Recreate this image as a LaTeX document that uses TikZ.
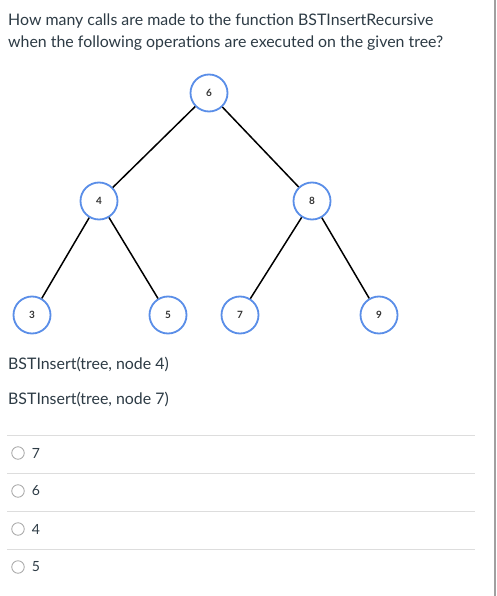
\documentclass[tikz,border=0pt]{standalone}
\usepackage{fontspec}
\setmainfont{Lato}
\usepackage{xcolor}
\usetikzlibrary{positioning}
\definecolor{treeBlue}{HTML}{5A8EE8}
\definecolor{textDark}{HTML}{2D3B45}
\definecolor{ruleGray}{HTML}{DDDDDD}
\definecolor{edgeGray}{HTML}{A0A0A0}

\begin{document}
\begin{tikzpicture}[x=1pt, y=-1pt,
    bst/.style={circle, draw=treeBlue, line width=1.8pt, minimum size=37pt, inner sep=0pt,
      fill=white, font=\fontsize{10}{11}\selectfont\bfseries, text=black!80},
    link/.style={line width=1.5pt, black},
    qtext/.style={anchor=base west, inner sep=0pt, font=\fontsize{15.9}{18}\selectfont, text=textDark},
    radio/.style={circle, draw=gray!70, line width=0.8pt, minimum size=12.5pt, inner sep=0pt},
    choice/.style={anchor=west, inner sep=0pt, font=\fontsize{14}{16}\selectfont, text=textDark},
    sep/.style={ruleGray, line width=1pt}
  ]
  \useasboundingbox (0,0) rectangle (496,596);
  \fill[white] (0,0) rectangle (496,596);
  \draw[edgeGray, line width=1.5pt] (495,0) -- (495,596);

  % === Question ===
  \node[qtext] (q1) at (8,26) {How many calls are made to the function BSTInsertRecursive};
  \node[qtext] (q2) at (8,48) {when the following operations are executed on the given tree?};

  % === Tree ===
  \node[bst] (n6) at (209,93) {6};
  \node[bst] (n4) at (99,201) {4};
  \node[bst] (n8) at (312,201) {8};
  \node[bst] (n3) at (32,315) {3};
  \node[bst] (n5) at (168,315) {5};
  \node[bst] (n7) at (240,315) {7};
  \node[bst] (n9) at (379,315) {9};
  \draw[link] (n6)--(n4); \draw[link] (n6)--(n8);
  \draw[link] (n4)--(n3); \draw[link] (n4)--(n5);
  \draw[link] (n8)--(n7); \draw[link] (n8)--(n9);

  % === Operations ===
  \node[qtext] (op1) at (8,369) {BSTInsert(tree, node 4)};
  \node[qtext] (op2) at (8,404) {BSTInsert(tree, node 7)};

  % === Answers ===
  \foreach \y/\v in {435/7, 473/6, 511/4, 549/5} {
    \draw[sep] (7,\y) -- (475,\y);
    \node[radio] (r\v) at (18,\y+18) {};
    \node[choice, right=7pt of r\v] (c\v) {\v};
  }
\end{tikzpicture}
\end{document}
